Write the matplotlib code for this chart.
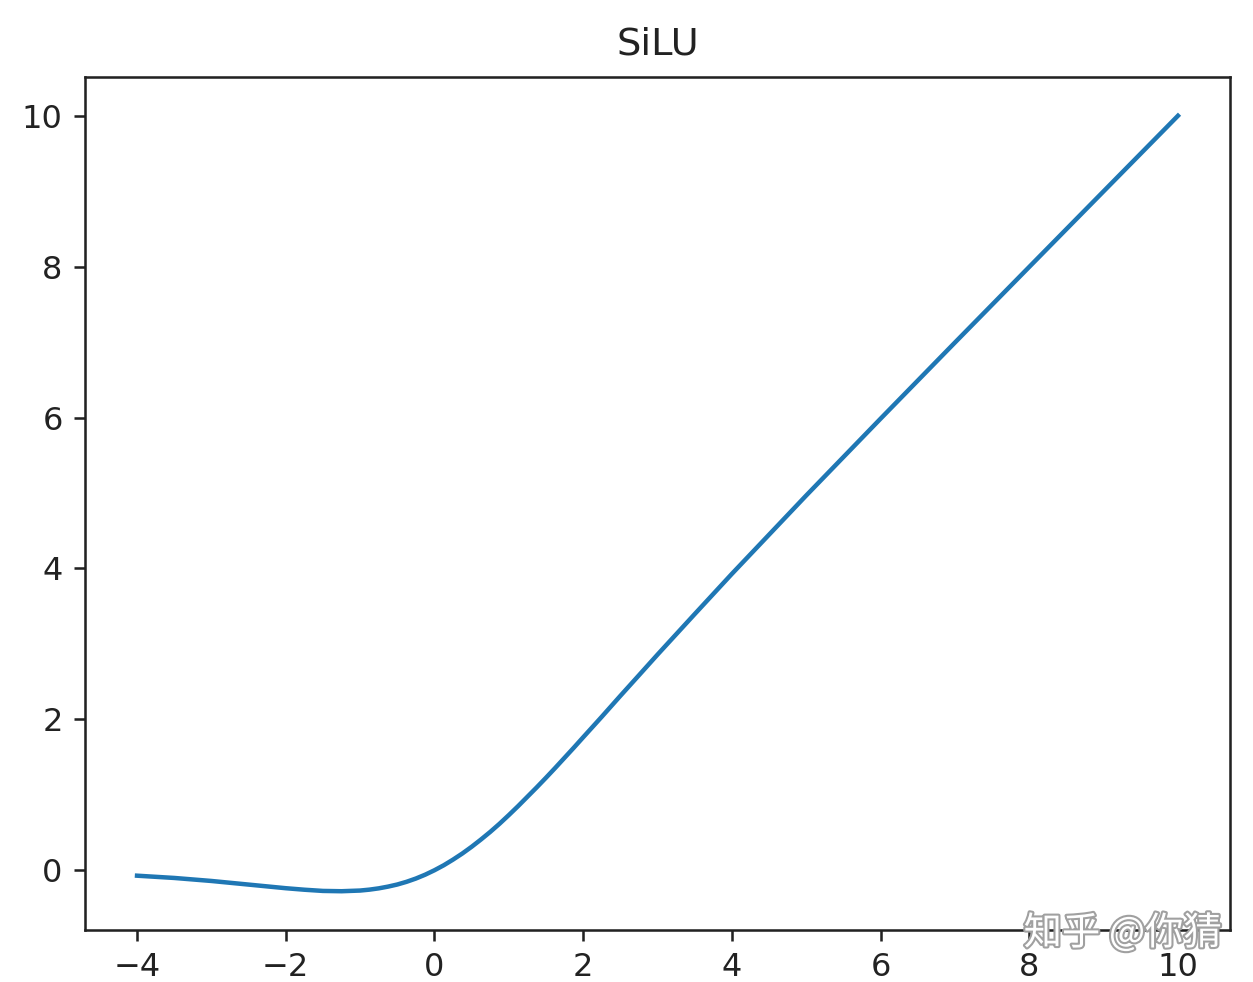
import matplotlib
matplotlib.use("Agg")
import matplotlib.pyplot as plt
import matplotlib.patheffects as pe

# Values (SiLU curve)
x_vals = [-4.0, -3.5, -3.0, -2.5, -2.0, -1.75, -1.5, -1.25, -1.0, -0.875, -0.75, -0.625,
          -0.5, -0.375, -0.25, -0.125, 0.0, 0.125, 0.25, 0.375, 0.5, 0.625, 0.75, 0.875,
          1.0, 1.125, 1.25, 1.375, 1.5, 1.625, 1.75, 1.875, 2.0, 2.25, 2.5, 2.75, 3.0,
          3.5, 4.0, 5.0, 6.0, 7.0, 8.0, 9.0, 10.0]
y_vals = [-0.072, -0.102, -0.142, -0.190, -0.238, -0.258, -0.274, -0.278, -0.269, -0.257,
          -0.240, -0.217, -0.189, -0.153, -0.110, -0.059, 0.0, 0.066, 0.141, 0.222,
          0.311, 0.407, 0.508, 0.616, 0.731, 0.850, 0.974, 1.098, 1.226, 1.357, 1.491,
          1.625, 1.762, 2.034, 2.311, 2.584, 2.858, 3.395, 3.928, 4.967, 5.985, 6.994,
          7.997, 8.999, 10.0]
title = "SiLU"
watermark = "知乎 @你猜"

W, H, DPI = 1253, 982, 230
fig = plt.figure(figsize=(W / DPI, H / DPI), dpi=DPI)
ax = fig.add_axes([85 / W, 1 - 930 / H, (1230 - 85) / W, (930 - 77) / H])
ax.plot(x_vals, y_vals, color="#1f77b4", lw=1.4)
ax.set_title(title, fontsize=12, color="#222222", pad=7)
ax.set_xticks([-4, -2, 0, 2, 4, 6, 8, 10])
ax.set_yticks([0, 2, 4, 6, 8, 10])
ax.tick_params(labelcolor="#222222", color="#222222")
for s in ax.spines.values():
    s.set_color("#222222")

fig.text(1222 / W, 1 - 934 / H, watermark, ha="right", va="center",
         fontsize=12, color="white",
         family=["Noto Sans CJK SC", "DejaVu Sans"],
         path_effects=[pe.withStroke(linewidth=1.3, foreground="#a0a0a0")])

fig.savefig("out.png", dpi=DPI)
